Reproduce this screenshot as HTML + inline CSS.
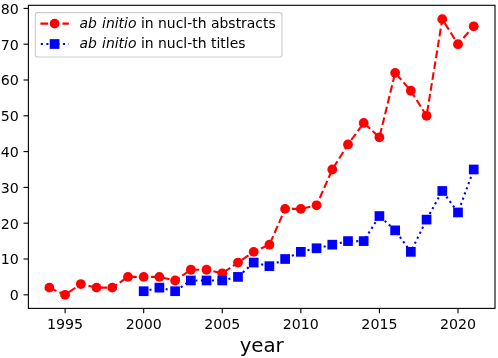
<!DOCTYPE html>
<html><head><meta charset="utf-8"><title>ab initio in nucl-th</title>
<style>html,body{margin:0;padding:0;background:#fff}svg{display:block}text{font-family:"DejaVu Sans","Liberation Sans",sans-serif;fill:#000}</style></head><body>
<svg width="498" height="358" viewBox="0 0 498 358">
<rect width="498" height="358" fill="#fff"/>
<polyline points="49.38,287.64 65.10,294.80 80.82,284.06 96.53,287.64 112.25,287.64 127.96,276.90 143.68,276.90 159.40,276.90 175.11,280.48 190.83,269.74 206.54,269.74 222.26,273.32 237.98,262.58 253.69,251.84 269.41,244.68 285.12,208.88 300.84,208.88 316.56,205.30 332.27,169.50 347.99,144.44 363.70,122.96 379.42,137.28 395.14,72.84 410.85,90.74 426.57,115.80 442.28,19.14 458.00,44.20 473.72,26.30" fill="none" stroke="#f00" stroke-width="2.08" stroke-dasharray="7.7 3.33" stroke-linejoin="round"/>
<circle cx="49.38" cy="287.64" r="4.9" fill="#f00"/>
<circle cx="65.10" cy="294.80" r="4.9" fill="#f00"/>
<circle cx="80.82" cy="284.06" r="4.9" fill="#f00"/>
<circle cx="96.53" cy="287.64" r="4.9" fill="#f00"/>
<circle cx="112.25" cy="287.64" r="4.9" fill="#f00"/>
<circle cx="127.96" cy="276.90" r="4.9" fill="#f00"/>
<circle cx="143.68" cy="276.90" r="4.9" fill="#f00"/>
<circle cx="159.40" cy="276.90" r="4.9" fill="#f00"/>
<circle cx="175.11" cy="280.48" r="4.9" fill="#f00"/>
<circle cx="190.83" cy="269.74" r="4.9" fill="#f00"/>
<circle cx="206.54" cy="269.74" r="4.9" fill="#f00"/>
<circle cx="222.26" cy="273.32" r="4.9" fill="#f00"/>
<circle cx="237.98" cy="262.58" r="4.9" fill="#f00"/>
<circle cx="253.69" cy="251.84" r="4.9" fill="#f00"/>
<circle cx="269.41" cy="244.68" r="4.9" fill="#f00"/>
<circle cx="285.12" cy="208.88" r="4.9" fill="#f00"/>
<circle cx="300.84" cy="208.88" r="4.9" fill="#f00"/>
<circle cx="316.56" cy="205.30" r="4.9" fill="#f00"/>
<circle cx="332.27" cy="169.50" r="4.9" fill="#f00"/>
<circle cx="347.99" cy="144.44" r="4.9" fill="#f00"/>
<circle cx="363.70" cy="122.96" r="4.9" fill="#f00"/>
<circle cx="379.42" cy="137.28" r="4.9" fill="#f00"/>
<circle cx="395.14" cy="72.84" r="4.9" fill="#f00"/>
<circle cx="410.85" cy="90.74" r="4.9" fill="#f00"/>
<circle cx="426.57" cy="115.80" r="4.9" fill="#f00"/>
<circle cx="442.28" cy="19.14" r="4.9" fill="#f00"/>
<circle cx="458.00" cy="44.20" r="4.9" fill="#f00"/>
<circle cx="473.72" cy="26.30" r="4.9" fill="#f00"/>
<polyline points="143.68,291.22 159.40,287.64 175.11,291.22 190.83,280.48 206.54,280.48 222.26,280.48 237.98,276.90 253.69,262.58 269.41,266.16 285.12,259.00 300.84,251.84 316.56,248.26 332.27,244.68 347.99,241.10 363.70,241.10 379.42,216.04 395.14,230.36 410.85,251.84 426.57,219.62 442.28,190.98 458.00,212.46 473.72,169.50" fill="none" stroke="#00f" stroke-width="2.08" stroke-dasharray="2.085 3.45" stroke-dashoffset="-0.4" stroke-linejoin="round"/>
<rect x="138.83" y="286.37" width="9.7" height="9.7" fill="#00f"/>
<rect x="154.55" y="282.79" width="9.7" height="9.7" fill="#00f"/>
<rect x="170.26" y="286.37" width="9.7" height="9.7" fill="#00f"/>
<rect x="185.98" y="275.63" width="9.7" height="9.7" fill="#00f"/>
<rect x="201.69" y="275.63" width="9.7" height="9.7" fill="#00f"/>
<rect x="217.41" y="275.63" width="9.7" height="9.7" fill="#00f"/>
<rect x="233.13" y="272.05" width="9.7" height="9.7" fill="#00f"/>
<rect x="248.84" y="257.73" width="9.7" height="9.7" fill="#00f"/>
<rect x="264.56" y="261.31" width="9.7" height="9.7" fill="#00f"/>
<rect x="280.27" y="254.15" width="9.7" height="9.7" fill="#00f"/>
<rect x="295.99" y="246.99" width="9.7" height="9.7" fill="#00f"/>
<rect x="311.71" y="243.41" width="9.7" height="9.7" fill="#00f"/>
<rect x="327.42" y="239.83" width="9.7" height="9.7" fill="#00f"/>
<rect x="343.14" y="236.25" width="9.7" height="9.7" fill="#00f"/>
<rect x="358.85" y="236.25" width="9.7" height="9.7" fill="#00f"/>
<rect x="374.57" y="211.19" width="9.7" height="9.7" fill="#00f"/>
<rect x="390.29" y="225.51" width="9.7" height="9.7" fill="#00f"/>
<rect x="406.00" y="246.99" width="9.7" height="9.7" fill="#00f"/>
<rect x="421.72" y="214.77" width="9.7" height="9.7" fill="#00f"/>
<rect x="437.43" y="186.13" width="9.7" height="9.7" fill="#00f"/>
<rect x="453.15" y="207.61" width="9.7" height="9.7" fill="#00f"/>
<rect x="468.87" y="164.65" width="9.7" height="9.7" fill="#00f"/>
<rect x="28.4" y="5.3" width="466.6" height="303.09999999999997" fill="none" stroke="#000" stroke-width="1.1"/>
<line x1="65.10" x2="65.10" y1="308.4" y2="313.29999999999995" stroke="#000" stroke-width="1.1"/>
<text x="65.10" y="328.5" font-size="14.2" text-anchor="middle">1995</text>
<line x1="143.68" x2="143.68" y1="308.4" y2="313.29999999999995" stroke="#000" stroke-width="1.1"/>
<text x="143.68" y="328.5" font-size="14.2" text-anchor="middle">2000</text>
<line x1="222.26" x2="222.26" y1="308.4" y2="313.29999999999995" stroke="#000" stroke-width="1.1"/>
<text x="222.26" y="328.5" font-size="14.2" text-anchor="middle">2005</text>
<line x1="300.84" x2="300.84" y1="308.4" y2="313.29999999999995" stroke="#000" stroke-width="1.1"/>
<text x="300.84" y="328.5" font-size="14.2" text-anchor="middle">2010</text>
<line x1="379.42" x2="379.42" y1="308.4" y2="313.29999999999995" stroke="#000" stroke-width="1.1"/>
<text x="379.42" y="328.5" font-size="14.2" text-anchor="middle">2015</text>
<line x1="458.00" x2="458.00" y1="308.4" y2="313.29999999999995" stroke="#000" stroke-width="1.1"/>
<text x="458.00" y="328.5" font-size="14.2" text-anchor="middle">2020</text>
<line x1="23.5" x2="28.4" y1="294.80" y2="294.80" stroke="#000" stroke-width="1.1"/>
<text x="18.7" y="300.10" font-size="14.2" text-anchor="end">0</text>
<line x1="23.5" x2="28.4" y1="259.00" y2="259.00" stroke="#000" stroke-width="1.1"/>
<text x="18.7" y="264.30" font-size="14.2" text-anchor="end">10</text>
<line x1="23.5" x2="28.4" y1="223.20" y2="223.20" stroke="#000" stroke-width="1.1"/>
<text x="18.7" y="228.50" font-size="14.2" text-anchor="end">20</text>
<line x1="23.5" x2="28.4" y1="187.40" y2="187.40" stroke="#000" stroke-width="1.1"/>
<text x="18.7" y="192.70" font-size="14.2" text-anchor="end">30</text>
<line x1="23.5" x2="28.4" y1="151.60" y2="151.60" stroke="#000" stroke-width="1.1"/>
<text x="18.7" y="156.90" font-size="14.2" text-anchor="end">40</text>
<line x1="23.5" x2="28.4" y1="115.80" y2="115.80" stroke="#000" stroke-width="1.1"/>
<text x="18.7" y="121.10" font-size="14.2" text-anchor="end">50</text>
<line x1="23.5" x2="28.4" y1="80.00" y2="80.00" stroke="#000" stroke-width="1.1"/>
<text x="18.7" y="85.30" font-size="14.2" text-anchor="end">60</text>
<line x1="23.5" x2="28.4" y1="44.20" y2="44.20" stroke="#000" stroke-width="1.1"/>
<text x="18.7" y="49.50" font-size="14.2" text-anchor="end">70</text>
<line x1="23.5" x2="28.4" y1="8.40" y2="8.40" stroke="#000" stroke-width="1.1"/>
<text x="18.7" y="13.70" font-size="14.2" text-anchor="end">80</text>
<text x="261.70" y="351.8" font-size="19.8" text-anchor="middle">year</text>
<rect x="35.3" y="12.6" width="246.7" height="44.4" rx="2.6" fill="#fff" fill-opacity="0.8" stroke="#ccc" stroke-width="1.1"/>
<line x1="40.4" x2="68.8" y1="23.6" y2="23.6" stroke="#f00" stroke-width="2.08" stroke-dasharray="7.7 3.33"/>
<circle cx="54.6" cy="23.6" r="4.9" fill="#f00"/>
<line x1="40.4" x2="68.8" y1="44.0" y2="44.0" stroke="#00f" stroke-width="2.08" stroke-dasharray="2.085 3.45" stroke-dashoffset="-0.4"/>
<rect x="49.75" y="39.15" width="9.7" height="9.7" fill="#00f"/>
<text x="79.4" y="27.8" font-size="13.94"><tspan font-style="italic" word-spacing="0.8">ab initio</tspan> in nucl-th abstracts</text>
<text x="79.4" y="48.2" font-size="13.94"><tspan font-style="italic" word-spacing="0.8">ab initio</tspan> in nucl-th titles</text>
</svg></body></html>
